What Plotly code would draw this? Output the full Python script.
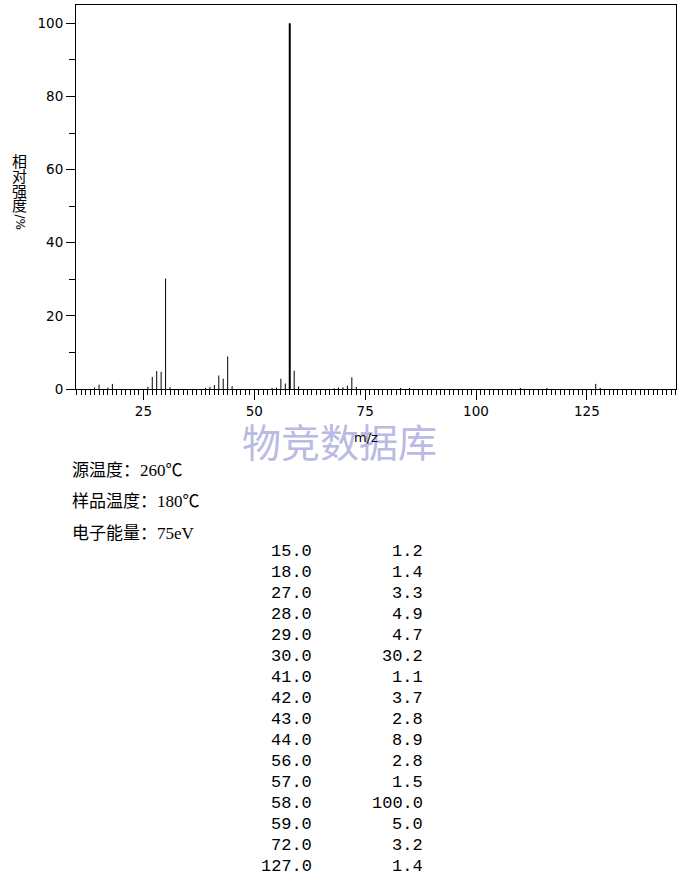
import plotly.graph_objects as go

# ---------------- data ----------------
# table values (as printed)
table_mz = [15.0, 18.0, 27.0, 28.0, 29.0, 30.0, 41.0, 42.0, 43.0, 44.0,
            56.0, 57.0, 58.0, 59.0, 72.0, 127.0]
table_int = [1.2, 1.4, 3.3, 4.9, 4.7, 30.2, 1.1, 3.7, 2.8, 8.9,
             2.8, 1.5, 100.0, 5.0, 3.2, 1.4]
# minor peaks visible in the spectrum but below the table threshold (estimated)
minor_mz = [14, 17, 26, 31, 39, 40, 45, 54, 55, 60, 68, 69, 70, 71, 73,
            83, 85, 110, 116, 128]
minor_int = [0.4, 0.4, 0.6, 0.5, 0.3, 0.6, 0.8, 0.3, 0.4, 0.7, 0.2, 0.4,
             0.5, 0.9, 0.6, 0.3, 0.3, 0.3, 0.3, 0.3]

info_lines = ["源温度：260℃", "样品温度：180℃", "电子能量：75eV"]
y_title_chars = ["相", "对", "强", "度"]
y_title_unit = "/%"
x_title = "m/z"
watermark = "物竞数据库"

x_ticks = [25, 50, 75, 100, 125]
y_ticks = [0, 20, 40, 60, 80, 100]

# ---------------- geometry helpers ----------------
W, H = 680, 879
L, R, T, B = 76, 4, 5, 490
plot_h = H - T - B


def py(ypx):
    """pixel y -> paper y"""
    return (H - B - ypx) / plot_h


def px(xpx):
    return (xpx - L) / (W - L - R)


all_mz = [float(m) for m in table_mz] + [float(m) for m in minor_mz]
all_int = list(table_int) + list(minor_int)
base = max(all_int)

xs, ys = [], []
bx, by = [], []
for m, v in zip(all_mz, all_int):
    if v == base:
        bx += [m, m, None]
        by += [0, v, None]
    else:
        xs += [m, m, None]
        ys += [0, v, None]

fig = go.Figure()
fig.add_trace(go.Scatter(x=xs, y=ys, mode="lines",
                         line=dict(color="black", width=1),
                         hoverinfo="skip", showlegend=False))
fig.add_trace(go.Scatter(x=bx, y=by, mode="lines",
                         line=dict(color="black", width=2),
                         hoverinfo="skip", showlegend=False))

tick_font = dict(family="DejaVu Sans", size=13.5, color="black")

fig.update_layout(
    width=W, height=H,
    margin=dict(l=L, r=R, t=T, b=B, pad=0),
    paper_bgcolor="white", plot_bgcolor="white",
    showlegend=False,
    xaxis=dict(range=[9.8, 145.1], showgrid=False, zeroline=False,
               showline=True, linecolor="black", linewidth=1, mirror=True,
               tickmode="array", tickvals=x_ticks,
               ticks="outside", ticklen=10, tickcolor="black", tickwidth=1,
               tickfont=tick_font,
               minor=dict(dtick=1, tick0=0, ticks="outside", ticklen=5,
                          tickcolor="black", tickwidth=1, showgrid=False)),
    yaxis=dict(range=[0, 105.0], showgrid=False, zeroline=False,
               showline=True, linecolor="black", linewidth=1, mirror=True,
               tickmode="array", tickvals=y_ticks,
               ticks="outside", ticklen=9, tickcolor="black", tickwidth=1,
               tickfont=tick_font,
               minor=dict(dtick=10, tick0=0, ticks="outside", ticklen=6,
                          tickcolor="black", tickwidth=1, showgrid=False)),
)

ann = []
# watermark
ann.append(dict(text=watermark, xref="paper", yref="paper",
                x=px(339), y=py(440), xanchor="center", yanchor="middle",
                showarrow=False,
                font=dict(family="Noto Sans CJK SC", size=39,
                          color="rgb(186,186,228)")))
# x title
ann.append(dict(text=x_title, xref="paper", yref="paper",
                x=px(366), y=py(437), xanchor="center", yanchor="middle",
                showarrow=False,
                font=dict(family="DejaVu Sans", size=13, color="black")))
# y title (stacked characters)
for i, ch in enumerate(y_title_chars):
    ann.append(dict(text=ch, xref="paper", yref="paper",
                    x=px(19.5), y=py(160 + i * 15),
                    xanchor="center", yanchor="middle", showarrow=False,
                    font=dict(family="Noto Sans CJK SC", size=15,
                              color="black")))
ann.append(dict(text=y_title_unit, xref="paper", yref="paper",
                x=px(19.5), y=py(222), xanchor="center", yanchor="middle",
                textangle=90, showarrow=False,
                font=dict(family="DejaVu Sans", size=12, color="black")))
# info lines
for i, t in enumerate(info_lines):
    ann.append(dict(text=t, xref="paper", yref="paper",
                    x=px(70), y=py(470 + i * 31.5),
                    xanchor="left", yanchor="middle", showarrow=False,
                    font=dict(family="Liberation Serif, Noto Sans CJK SC",
                              size=17, color="black")))
# peak table
for i, (m, v) in enumerate(zip(table_mz, table_int)):
    yy = py(551 + i * 21.0)
    ann.append(dict(text=f"{m:.1f}", xref="paper", yref="paper",
                    x=px(314), y=yy, xanchor="right", yanchor="middle",
                    showarrow=False,
                    font=dict(family="Liberation Mono", size=17,
                              color="black")))
    ann.append(dict(text=f"{v:.1f}", xref="paper", yref="paper",
                    x=px(425), y=yy, xanchor="right", yanchor="middle",
                    showarrow=False,
                    font=dict(family="Liberation Mono", size=17,
                              color="black")))

fig.update_layout(annotations=ann)
fig.write_html("out.html",
               config={"displayModeBar": False, "staticPlot": True},
               post_script="document.body.style.margin='0';"
                           "document.body.style.overflow='hidden';")
